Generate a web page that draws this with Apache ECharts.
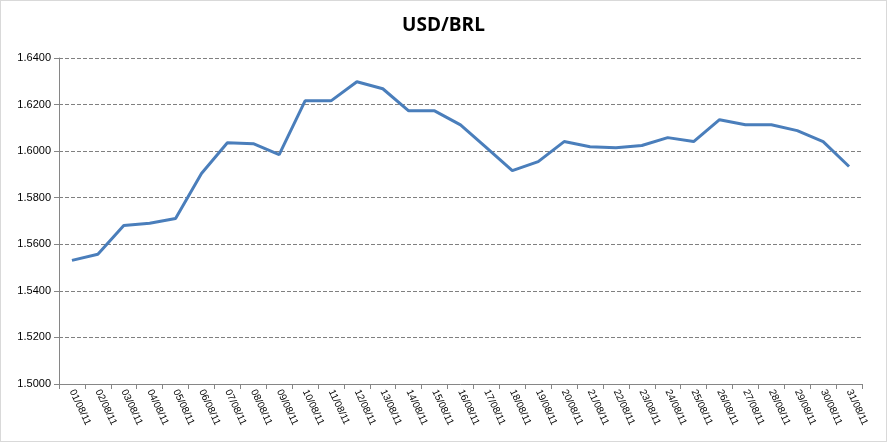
<!DOCTYPE html>
<html><head><meta charset="utf-8">
<script src="https://cdn.jsdelivr.net/npm/echarts@6/dist/echarts.min.js"></script>
<style>html,body{margin:0;padding:0;background:#fff}#c{width:887px;height:442px;box-sizing:border-box;border:1px solid #d9d9d9}</style>
</head><body><div id="c"></div>
<script>
const categories = ["01/08/11","02/08/11","03/08/11","04/08/11","05/08/11","06/08/11","07/08/11","08/08/11","09/08/11","10/08/11","11/08/11","12/08/11","13/08/11","14/08/11","15/08/11","16/08/11","17/08/11","18/08/11","19/08/11","20/08/11","21/08/11","22/08/11","23/08/11","24/08/11","25/08/11","26/08/11","27/08/11","28/08/11","29/08/11","30/08/11","31/08/11"];
const values = [1.5531,1.5557,1.5681,1.5690,1.5711,1.5904,1.6036,1.6032,1.5985,1.6216,1.6216,1.6298,1.6268,1.6173,1.6173,1.6113,1.6015,1.5916,1.5955,1.6041,1.6019,1.6015,1.6024,1.6058,1.6041,1.6135,1.6113,1.6113,1.6088,1.6041,1.5934];
const chart = echarts.init(document.getElementById('c'));
chart.setOption({
  animation:false,
  title:{text:'USD/BRL',left:'center',top:10,textStyle:{fontFamily:'Open Sans',fontSize:19,fontWeight:'bold',color:'#000'}},
  grid:{left:58,right:24,top:57,bottom:57},
  xAxis:{type:'category',data:categories,boundaryGap:true,
    axisLine:{lineStyle:{color:'#868686'}},axisTick:{show:true,interval:0,lineStyle:{color:'#868686'}},
    axisLabel:{interval:0,rotate:-65,fontSize:10,color:'#000',fontFamily:'Liberation Sans',margin:6}},
  yAxis:{type:'value',min:1.5,max:1.64,interval:0.02,
    axisLine:{show:true,lineStyle:{color:'#868686'}},axisTick:{show:true,lineStyle:{color:'#868686'}},
    axisLabel:{formatter:v=>v.toFixed(4),fontSize:11,color:'#000',fontFamily:'Liberation Sans'},
    splitLine:{lineStyle:{color:'#808080',type:'dashed',width:1}}},
  series:[{type:'line',data:values,symbol:'none',lineStyle:{color:'#4a7ebb',width:3}}]
});
</script></body></html>
